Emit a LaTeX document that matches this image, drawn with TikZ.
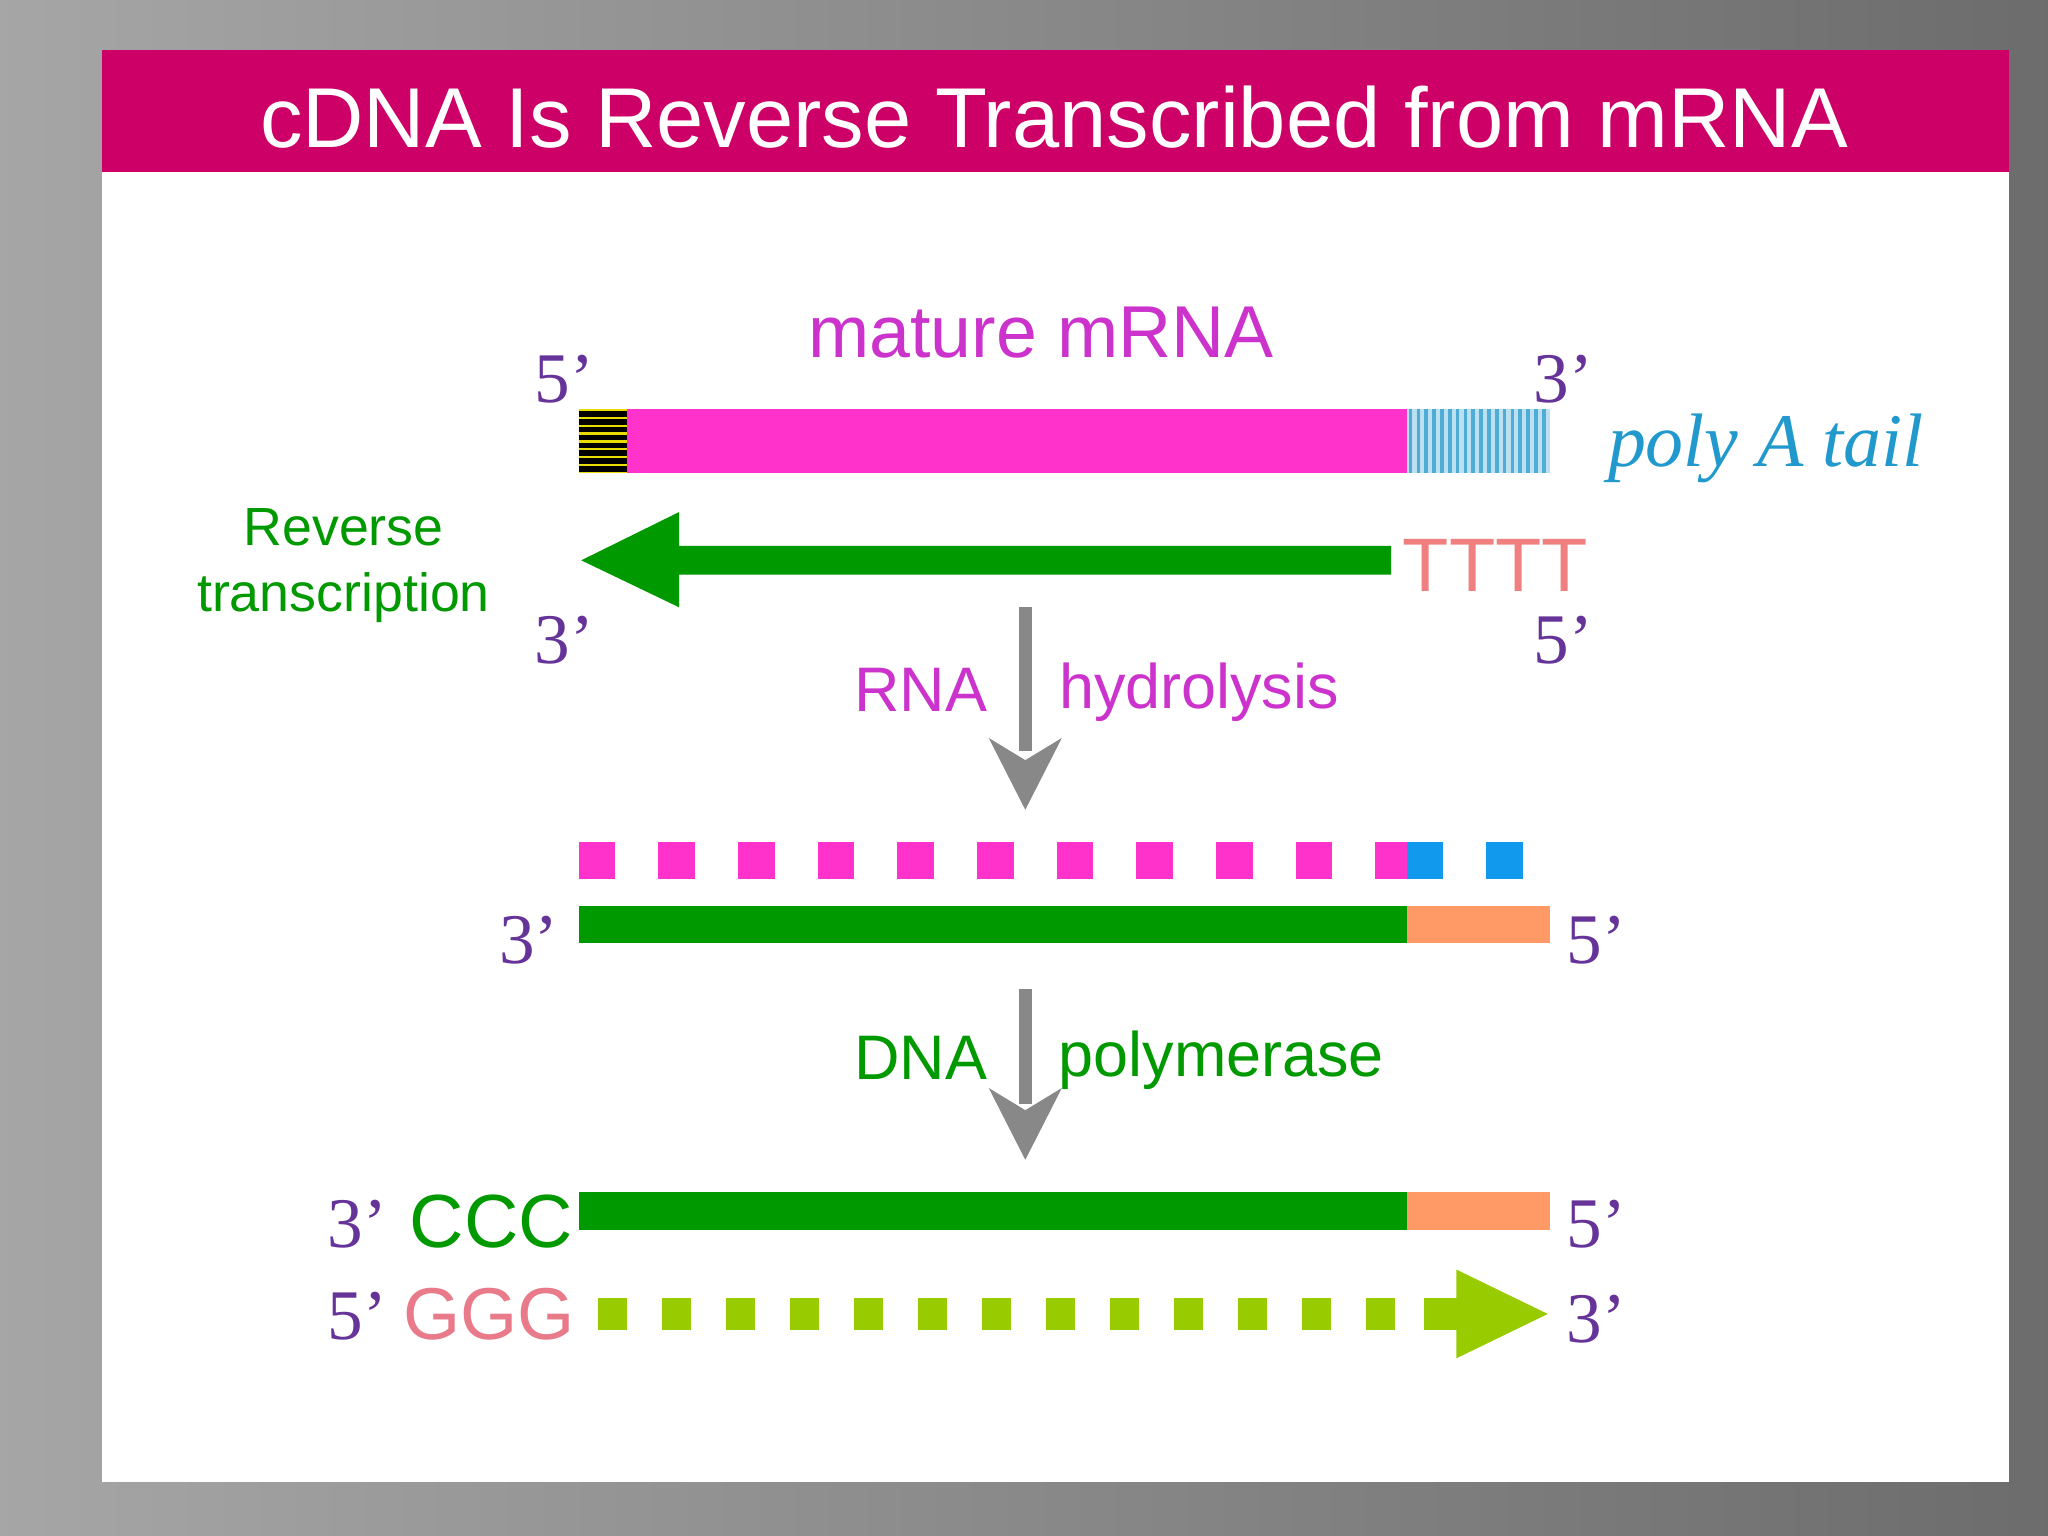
\documentclass[tikz,border=0pt]{standalone}
\usepackage{fontspec}
\setmainfont{Liberation Serif}
\setsansfont{Liberation Sans}
\definecolor{ttl}{HTML}{CC0066}
\definecolor{pinkb}{HTML}{FF33CC}
\definecolor{magt}{HTML}{CC33CC}
\definecolor{purp}{HTML}{663399}
\definecolor{grn}{HTML}{009900}
\definecolor{lime}{HTML}{99CC00}
\definecolor{orng}{HTML}{FF9966}
\definecolor{bluesq}{HTML}{1199EE}
\definecolor{polyc}{HTML}{2299CC}
\definecolor{salm}{HTML}{F08080}
\definecolor{ggg}{HTML}{E87A8A}
\definecolor{gryA}{HTML}{888888}
\tikzset{
 end/.style={font=\fontsize{15.5}{15.5}\selectfont, text=purp, inner sep=0pt},
 lbl/.style={font=\sffamily\fontsize{13.7}{16}\selectfont, inner sep=0pt},
}
\begin{document}
\begin{tikzpicture}[x=0.01cm,y=-0.01cm]
\useasboundingbox (0,0) rectangle (1568,1176);
\shade[left color=gray!70, right color=gray!85!black] (0,0) rectangle (1568,1176);
\fill[ttl] (78,38) rectangle (1538,132);
\fill[white] (78,132) rectangle (1538,1135);
\node[text=white, font=\sffamily\fontsize{18.5}{18.5}\selectfont] (title) at (807,90) {cDNA Is Reverse Transcribed from mRNA};
% mRNA
\fill[yellow!80!olive] (443,313) rectangle (480,362);
\foreach \y in {317,323,...,359} \draw[black, line width=1.2pt] (443,\y) -- (480,\y);
\fill[pinkb] (480,313) rectangle (1077,362);
\fill[polyc!30] (1077,313) rectangle (1187,362);
\foreach \x in {1080,1086,...,1185} \draw[polyc!80, line width=0.8pt] (\x,313) -- (\x,362);
\node[text=magt, font=\sffamily\fontsize{16}{16}\selectfont] (mm) at (797,255) {mature mRNA};
\node[end] (e1) at (432,290) {5’};
\node[end] (e2) at (1197,290) {3’};
\node[text=polyc, font=\itshape\fontsize{16.5}{16.5}\selectfont] (poly) at (1352,343) {poly A tail};
% green arrow
\fill[grn] (1065,418) -- (520,418) -- (520,392) -- (445,429) -- (520,465) -- (520,440) -- (1065,440) -- cycle;
\node[text=salm, font=\sffamily\fontsize{16.5}{16.5}\selectfont, inner sep=0pt] (tttt) at (1145,433) {TTTT};
\node[text=grn, font=\sffamily\fontsize{11.7}{14.5}\selectfont, align=center] (rt) at (263,433) {Reverse\\transcription};
\node[end] (e3) at (432,490) {3’};
\node[end] (e4) at (1197,490) {5’};
% gray arrow 1
\fill[gryA] (780,465) rectangle (790,575);
\fill[gryA] (757,565) -- (785,582) -- (813,565) -- (785,620) -- cycle;
\node[lbl, text=magt] (rna) at (705,528) {RNA};
\node[lbl, text=magt] (hyd) at (918,530) {hydrolysis};
% squares
\foreach \x in {443,504,...,1053} \fill[pinkb] (\x,645) rectangle ++(28,28);
\fill[bluesq] (1077,645) rectangle (1105,673);
\fill[bluesq] (1138,645) rectangle (1166,673);
\fill[grn] (443,694) rectangle (1077,722);
\fill[orng] (1077,694) rectangle (1187,722);
\node[end] (e5) at (405,720) {3’};
\node[end] (e6) at (1222,720) {5’};
% gray arrow 2
\fill[gryA] (780,757) rectangle (790,845);
\fill[gryA] (757,833) -- (785,850) -- (813,833) -- (785,888) -- cycle;
\node[lbl, text=grn] (dna) at (705,810) {DNA};
\node[lbl, text=grn] (pol) at (935,812) {polymerase};
% bottom
\fill[grn] (443,913) rectangle (1077,942);
\fill[orng] (1077,913) rectangle (1187,942);
\node[end, anchor=west] (e7) at (250,937) {3’};
\node[text=grn, font=\sffamily\fontsize{16.4}{16.4}\selectfont, inner sep=0pt, anchor=west] (ccc) at (313,935) {CCC};
\node[end] (e8) at (1222,937) {5’};
\node[end, anchor=west] (e9) at (250,1008) {5’};
\node[text=ggg, font=\sffamily\fontsize{16}{16}\selectfont, inner sep=0pt, anchor=west] (g) at (308,1006) {GGG};
\foreach \x in {458,507,...,1070} \fill[lime] (\x,994) rectangle ++(22,24);
\fill[lime] (1090,994) rectangle (1118,1018);
\fill[lime] (1115,972) -- (1185,1006) -- (1115,1040) -- cycle;
\node[end] (e10) at (1222,1010) {3’};
\end{tikzpicture}
\end{document}
